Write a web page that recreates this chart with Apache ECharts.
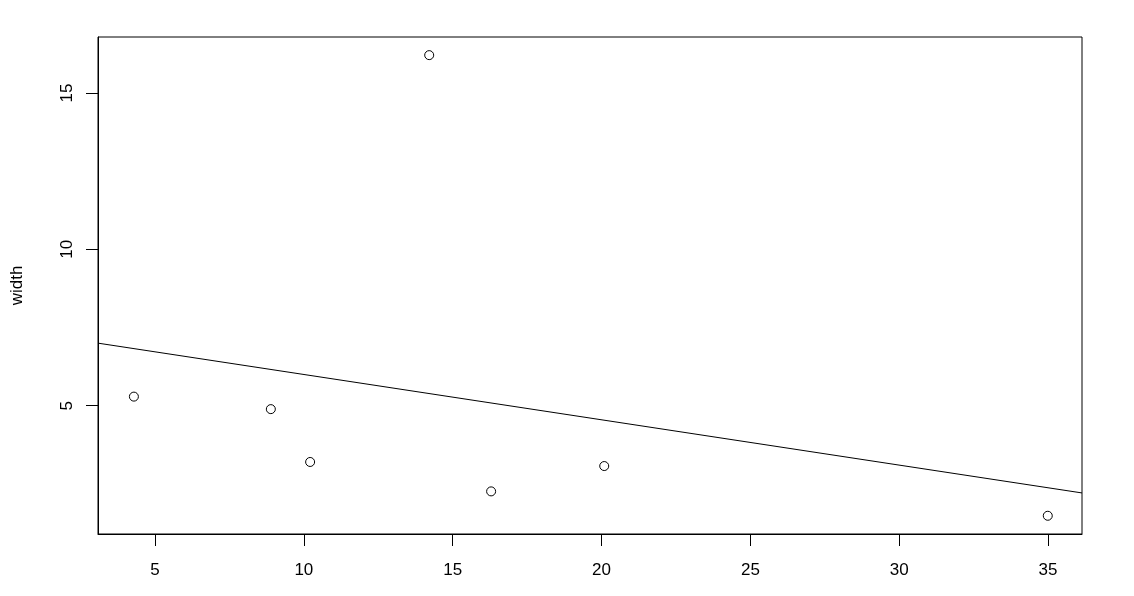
<!DOCTYPE html>
<html>
<head>
<meta charset="utf-8">
<script src="https://cdn.jsdelivr.net/npm/echarts@6/dist/echarts.min.js"></script>
<style>html,body{margin:0;padding:0;background:#fff}#c{width:1134px;height:596px}</style>
</head>
<body>
<div id="c"></div>
<script>
const xValues = [4.29, 8.89, 10.21, 14.21, 16.29, 20.09, 34.99];
const yValues = [5.29, 4.89, 3.20, 16.21, 2.26, 3.07, 1.48];
const fitX = [3.084, 36.14];
const fitY = [7.00, 2.21];
const xTicks = [5, 10, 15, 20, 25, 30, 35];
const yTicks = [5, 10, 15];
const yName = 'width';

const points = xValues.map((x, i) => [x, yValues[i]]);
const fitLine = fitX.map((x, i) => [x, fitY[i]]);
const font = '"Liberation Sans", Arial, sans-serif';

const chart = echarts.init(document.getElementById('c'), null, {renderer: 'canvas'});
chart.setOption({
  animation: false,
  backgroundColor: '#fff',
  grid: {left: 98, right: 52, top: 37, bottom: 62, show: true, borderColor: '#000', borderWidth: 1, backgroundColor: 'transparent'},
  xAxis: {
    type: 'value', min: 3.084, max: 36.14,
    axisLine: {show: true, onZero: false, lineStyle: {color: '#000', width: 1}},
    axisTick: {show: true, length: 12, customValues: xTicks, lineStyle: {color: '#000'}},
    axisLabel: {customValues: xTicks, color: '#000', fontSize: 17, fontFamily: font, margin: 28},
    splitLine: {show: false}
  },
  yAxis: {
    type: 'value', min: 0.897, max: 16.79,
    name: yName, nameLocation: 'middle', nameRotate: 90, nameGap: 72,
    nameTextStyle: {color: '#000', fontSize: 17, fontFamily: font},
    axisLine: {show: true, onZero: false, lineStyle: {color: '#000', width: 1}},
    axisTick: {show: true, length: 12, customValues: yTicks, lineStyle: {color: '#000'}},
    axisLabel: {customValues: yTicks, color: '#000', fontSize: 17, fontFamily: font, rotate: 90, margin: 22, align: 'center', verticalAlign: 'bottom'},
    splitLine: {show: false}
  },
  series: [
    {type: 'scatter', data: points, symbol: 'circle', symbolSize: 9,
     itemStyle: {color: 'rgba(255,255,255,0)', borderColor: '#000', borderWidth: 1, opacity: 1}},
    {type: 'line', data: fitLine, symbol: 'none', lineStyle: {color: '#000', width: 1}}
  ]
});
</script>
</body>
</html>
